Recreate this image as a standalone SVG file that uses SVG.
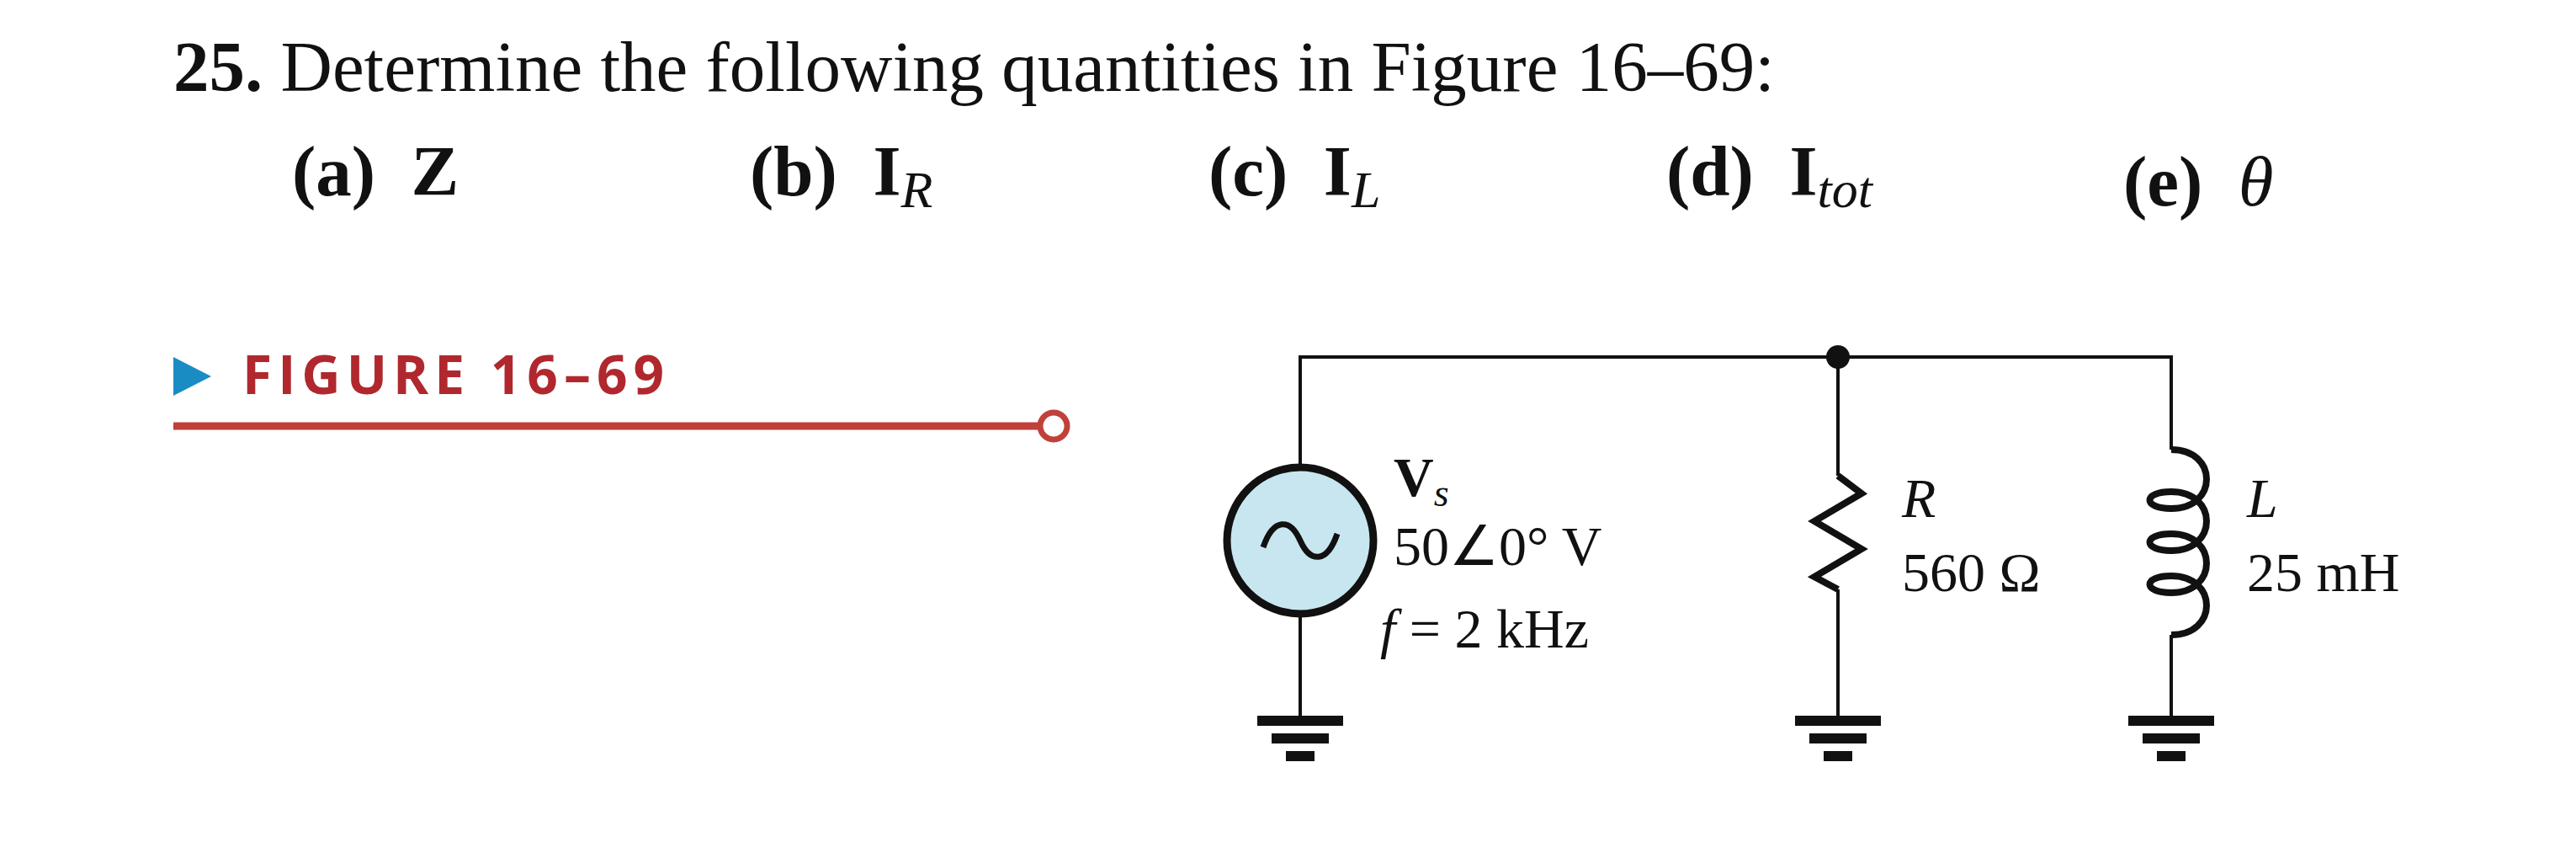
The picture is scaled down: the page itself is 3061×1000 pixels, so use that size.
<svg xmlns="http://www.w3.org/2000/svg" width="3061" height="1000" viewBox="0 0 3061 1000">
<style>
.t{font-family:"Liberation Serif",serif;font-size:85px;fill:#111}
.b{font-weight:bold}
.i{font-style:italic}
.l{font-family:"Liberation Serif",serif;font-size:66px;fill:#111}
.w{stroke:#111;stroke-width:4;fill:none}
.g{fill:#111}
</style>
<rect width="3061" height="1000" fill="#fff"/>
<text class="t" x="206" y="108"><tspan class="b">25.</tspan> Determine the following quantities in Figure 16–69:</text>
<text class="t b" x="347" y="232" xml:space="preserve">(a)  Z</text>
<text class="t b" x="891" y="232" xml:space="preserve">(b)  I<tspan class="i" font-weight="normal" font-size="62" dy="14">R</tspan></text>
<text class="t b" x="1436" y="232" xml:space="preserve">(c)  I<tspan class="i" font-weight="normal" font-size="62" dy="14">L</tspan></text>
<text class="t b" x="1980" y="232" xml:space="preserve">(d)  I<tspan class="i" font-weight="normal" font-size="62" dy="14">tot</tspan></text>
<text class="t b" x="2523" y="244" xml:space="preserve">(e)  <tspan class="i" font-weight="normal">θ</tspan></text>
<g id="figlabel">
<polygon points="206,424 251,447 206,470" fill="#1a8cc4"/>
<text x="288" y="468" font-family="'Open Sans',sans-serif" font-weight="bold" font-size="64" fill="#b0282e" letter-spacing="7">FIGURE 16–69</text>
<line x1="206" y1="506" x2="1236" y2="506" stroke="#c0413a" stroke-width="9"/>
<circle cx="1252" cy="506" r="16" fill="#fff" stroke="#c0413a" stroke-width="7"/>
</g>
<g id="connectors">
<polyline class="w" points="1545,554 1545,424 2580,424 2580,534"/>
<line class="w" x1="2184" y1="424" x2="2184" y2="565"/>
<line class="w" x1="1545" y1="730" x2="1545" y2="856"/>
<line class="w" x1="2184" y1="700" x2="2184" y2="856"/>
<line class="w" x1="2580" y1="754" x2="2580" y2="856"/>
<circle cx="2184" cy="424" r="14" class="g"/>
</g>
<g id="source">
<circle cx="1545" cy="642" r="87" fill="#c8e6f0" stroke="#111" stroke-width="9"/>
<path d="M1501 650 C1513 615 1533 615 1545 642 C1557 669 1577 669 1589 634" fill="none" stroke="#111" stroke-width="7"/>
<text class="l" x="1656" y="589"><tspan font-weight="bold">V</tspan><tspan class="i" font-size="46" dy="12">s</tspan></text>
<text class="l" x="1656" y="671">50∠0° V</text>
<text class="l" x="1640" y="769"><tspan class="i">f</tspan> = 2 kHz</text>
</g>
<g id="resistor">
<polyline points="2184,565 2212,586 2156,619 2212,652 2156,685 2184,700" fill="none" stroke="#111" stroke-width="8" stroke-linejoin="miter"/>
<text class="l i" x="2260" y="614">R</text>
<text class="l" x="2260" y="702">560 Ω</text>
</g>
<g id="inductor">
<path d="M2580 534 c56 0 56 70 0 70 c-34 0 -34 -20 0 -20 c56 0 56 70 0 70 c-34 0 -34 -20 0 -20 c56 0 56 70 0 70 c-34 0 -34 -20 0 -20 c56 0 56 70 0 70" fill="none" stroke="#111" stroke-width="8"/>
<text class="l i" x="2670" y="614">L</text>
<text class="l" x="2670" y="702">25 mH</text>
</g>
<g id="grounds" class="g">
<rect x="1494" y="850" width="102" height="12"/><rect x="1511" y="871" width="68" height="12"/><rect x="1528" y="892" width="34" height="12"/>
<rect x="2133" y="850" width="102" height="12"/><rect x="2150" y="871" width="68" height="12"/><rect x="2167" y="892" width="34" height="12"/>
<rect x="2529" y="850" width="102" height="12"/><rect x="2546" y="871" width="68" height="12"/><rect x="2563" y="892" width="34" height="12"/>
</g>
</svg>
